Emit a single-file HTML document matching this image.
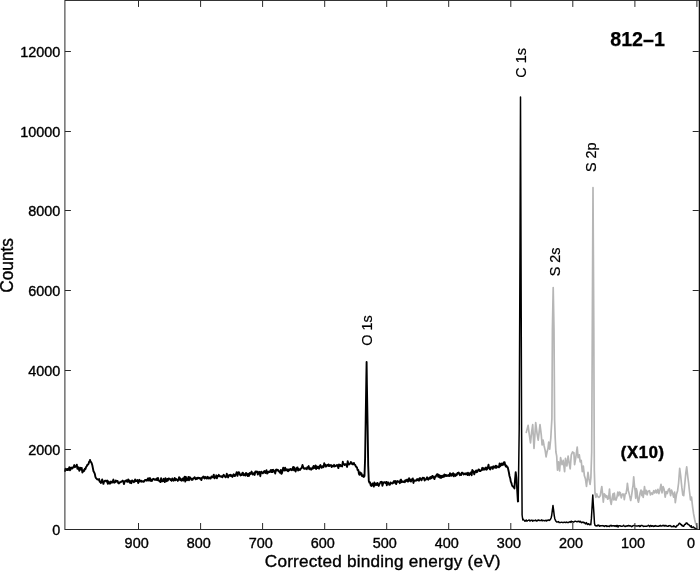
<!DOCTYPE html>
<html><head><meta charset="utf-8"><title>812-1</title>
<style>
html,body{margin:0;padding:0;background:#fff;}
body{width:700px;height:571px;overflow:hidden;font-family:"Liberation Sans",sans-serif;}
svg{display:block;filter:grayscale(1);}
text{font-family:"Liberation Sans",sans-serif;fill:#000;stroke:#000;}
</style></head><body>
<svg width="700" height="571" viewBox="0 0 700 571">
<rect x="0" y="0" width="700" height="571" fill="#fff"/>
<polyline fill="none" stroke="#b6b6b6" stroke-width="1.7" stroke-linejoin="round" stroke-linecap="round" points="526.3,432.4 528.1,425.4 529.2,433.8 530.5,442.9 531.6,432.4 532.7,424.7 534.0,448.5 535.7,422.6 537.1,433.8 538.2,440.1 540.0,424.7 541.3,435.2 542.1,445.0 543.1,440.1 544.1,445.7 545.2,450.6 546.1,456.9 547.0,452.0 548.0,448.5 548.7,442.2 549.7,449.2 550.8,438.0 551.9,418.4 552.4,330.0 553.2,287.5 554.0,330.0 554.6,420.0 555.2,438.0 555.9,452.0 556.7,456.2 557.5,470.2 558.5,461.8 559.6,470.9 560.6,457.6 562.0,464.6 563.2,460.4 564.6,471.6 565.5,458.3 566.9,466.0 568.1,456.2 569.3,463.9 570.2,468.8 571.3,454.8 572.5,452.0 573.9,452.7 574.6,464.6 575.8,457.6 577.2,447.1 578.1,457.6 579.3,454.8 580.2,461.8 581.2,460.4 582.3,471.6 583.3,466.0 584.4,475.8 585.4,478.7 586.5,486.4 588.0,472.3 588.9,478.7 590.1,484.3 590.9,477.3 591.7,452.0 592.3,330.0 593.0,187.5 593.8,330.0 594.3,470.0 595.0,493.0 595.9,497.4 596.8,493.9 597.6,496.5 598.9,497.4 600.3,495.7 601.1,490.4 601.8,486.5 602.5,493.0 603.3,502.2 604.2,493.9 605.1,494.8 606.0,497.4 606.8,495.7 607.7,499.2 608.6,498.3 609.5,489.1 610.3,500.0 611.2,504.4 612.1,498.3 613.0,493.9 613.8,500.0 614.3,493.0 615.2,499.6 616.0,500.0 616.9,497.4 617.8,492.2 618.7,495.7 619.5,492.2 620.4,493.0 621.3,497.8 622.2,494.8 623.0,493.9 623.9,495.7 624.3,499.6 625.2,493.9 626.1,493.5 627.0,487.8 627.4,483.4 628.3,490.4 629.2,493.9 630.0,497.4 630.7,500.5 631.6,495.7 632.5,488.6 633.1,485.1 633.7,476.8 634.4,485.1 635.1,490.4 635.7,498.3 636.3,488.6 637.0,491.3 637.8,500.0 638.5,502.2 639.2,498.3 640.1,493.0 641.0,490.0 641.9,495.7 642.5,491.3 643.2,497.4 644.1,490.4 644.5,486.5 645.4,493.9 646.2,490.4 647.1,494.8 648.0,491.3 649.5,490.7 650.5,495.0 651.5,492.9 652.6,494.3 653.7,490.7 654.7,492.9 655.7,490.0 656.8,492.9 657.9,489.3 658.9,493.6 659.9,490.0 661.0,484.4 662.0,492.9 663.1,486.5 664.1,489.3 665.2,497.1 666.2,491.5 667.3,493.6 668.5,489.3 669.4,488.6 670.6,495.7 671.5,490.0 672.5,492.9 673.6,497.1 674.6,492.2 675.3,502.7 676.5,494.3 677.6,490.7 678.6,483.0 679.7,468.3 680.7,476.0 681.8,487.2 682.8,495.0 683.7,495.7 684.9,483.0 685.8,473.2 686.7,466.9 687.7,476.0 688.6,483.0 689.5,491.5 690.5,499.9 691.5,497.1 692.6,506.9 693.6,513.9 694.7,519.5 695.7,523.7 696.4,525.1 697.2,527.2"/>
<polyline fill="none" stroke="#000" stroke-width="1.9" stroke-linejoin="round" stroke-linecap="round" points="65.0,471.0 65.6,468.6 66.2,469.5 66.9,470.1 67.5,468.9 68.1,470.0 68.7,469.6 69.3,467.2 70.0,470.2 70.6,469.4 71.2,467.6 71.8,467.9 72.4,468.4 73.1,467.2 73.7,466.9 74.3,465.1 74.9,467.2 75.5,466.4 76.2,466.4 76.8,464.7 77.4,468.9 78.0,467.5 78.6,467.3 79.3,470.7 79.9,468.8 80.5,467.8 81.1,469.6 81.7,468.0 82.4,472.6 83.0,471.5 83.6,470.3 84.2,470.9 84.8,468.8 85.5,469.0 86.1,466.9 86.7,466.3 87.3,464.8 87.9,464.8 88.6,463.7 89.2,461.5 89.8,460.8 90.0,459.9 90.4,461.2 91.0,462.1 91.7,463.3 92.3,465.3 92.9,468.3 93.5,471.2 94.1,472.2 94.8,473.8 95.4,476.9 96.0,478.1 96.6,478.7 97.2,479.4 97.9,479.5 98.5,479.8 99.1,479.0 99.7,481.9 100.3,481.4 101.0,483.0 101.6,481.2 102.2,479.4 102.8,481.7 103.4,483.9 104.1,481.4 104.7,480.9 105.3,480.6 105.9,480.7 106.5,481.6 107.2,480.5 107.8,483.7 108.4,481.5 109.0,482.0 109.6,483.6 110.3,483.6 110.9,481.5 111.5,482.2 112.1,482.6 112.7,481.5 113.4,479.6 114.0,482.5 114.6,482.7 115.2,482.1 115.8,480.5 116.5,481.4 117.1,480.9 117.7,481.2 118.3,483.1 118.9,483.4 119.6,482.3 120.2,482.1 120.8,482.3 121.4,481.4 122.0,481.3 122.7,480.6 123.3,481.3 123.9,484.1 124.5,482.4 125.1,480.9 125.8,480.7 126.4,480.2 127.0,481.7 127.6,481.7 128.2,479.5 128.9,481.8 129.5,480.5 130.1,482.9 130.7,481.3 131.3,483.2 132.0,480.5 132.6,480.7 133.2,481.4 133.8,482.3 134.4,481.7 135.1,479.5 135.7,481.2 136.3,481.0 136.9,480.4 137.5,480.1 138.2,483.0 138.8,480.4 139.4,479.8 140.0,481.6 140.6,480.9 141.3,480.7 141.9,481.7 142.5,481.3 143.1,481.1 143.7,481.8 144.4,481.0 145.0,479.9 145.6,480.2 146.2,480.0 146.8,480.8 147.5,479.2 148.1,478.3 148.7,480.6 149.3,478.9 149.9,478.1 150.6,480.9 151.2,479.5 151.8,481.0 152.4,479.7 153.0,479.0 153.7,478.8 154.3,479.7 154.9,479.9 155.5,479.3 156.1,479.9 156.8,478.4 157.4,480.2 158.0,478.0 158.6,479.9 159.2,480.9 159.9,481.4 160.5,482.1 161.1,478.2 161.7,480.9 162.3,481.4 163.0,481.2 163.6,478.8 164.2,480.4 164.8,482.1 165.4,478.1 166.1,480.4 166.7,481.2 167.3,479.0 167.9,480.5 168.5,478.5 169.2,478.8 169.8,478.7 170.4,479.9 171.0,479.6 171.6,480.8 172.3,478.5 172.9,479.5 173.5,480.7 174.1,480.2 174.7,478.0 175.4,480.3 176.0,478.9 176.6,479.9 177.2,479.8 177.8,480.9 178.5,479.6 179.1,477.2 179.7,477.7 180.3,480.2 180.9,479.0 181.6,480.7 182.2,479.6 182.8,478.4 183.4,480.5 184.0,478.2 184.7,476.7 185.3,481.6 185.9,476.9 186.5,479.9 187.1,480.2 187.8,479.3 188.4,477.0 189.0,480.3 189.6,477.3 190.2,477.4 190.9,478.5 191.5,479.8 192.1,479.2 192.7,479.7 193.3,478.2 194.0,478.4 194.6,477.2 195.2,478.2 195.8,479.2 196.4,478.1 197.1,478.9 197.7,477.6 198.3,477.6 198.9,478.3 199.5,477.9 200.2,478.8 200.8,478.3 201.4,480.1 202.0,477.7 202.6,477.6 203.3,476.6 203.9,477.8 204.5,478.5 205.1,476.8 205.7,477.5 206.4,478.4 207.0,477.3 207.6,476.8 208.2,478.6 208.8,477.4 209.5,477.8 210.1,478.6 210.7,478.5 211.3,476.7 211.9,476.4 212.6,477.3 213.2,476.8 213.8,474.6 214.4,478.4 215.0,476.8 215.7,477.6 216.3,475.3 216.9,478.2 217.5,475.9 218.1,476.4 218.8,474.8 219.4,476.2 220.0,476.1 220.6,476.1 221.2,476.8 221.9,476.3 222.5,477.3 223.1,475.5 223.7,474.8 224.3,475.9 225.0,476.7 225.6,477.3 226.2,476.8 226.8,473.6 227.4,476.1 228.1,477.4 228.7,475.6 229.3,474.9 229.9,475.8 230.5,474.8 231.2,476.1 231.8,475.3 232.4,476.9 233.0,475.8 233.6,474.3 234.3,475.8 234.9,476.1 235.5,474.3 236.1,474.4 236.7,472.1 237.4,475.9 238.0,474.0 238.6,472.1 239.2,472.5 239.8,474.3 240.5,475.4 241.1,474.4 241.7,475.0 242.3,473.0 242.9,472.7 243.6,475.3 244.2,474.8 244.8,474.1 245.4,475.6 246.0,472.9 246.7,473.5 247.3,475.2 247.9,476.1 248.5,473.8 249.1,475.8 249.8,473.0 250.4,474.0 251.0,473.4 251.6,471.6 252.2,473.8 252.9,474.6 253.5,473.2 254.1,473.2 254.7,474.9 255.3,471.7 256.0,471.4 256.6,472.3 257.2,471.6 257.8,474.6 258.4,473.3 259.1,471.8 259.7,472.1 260.3,476.2 260.9,472.0 261.5,471.7 262.2,473.0 262.8,473.3 263.4,472.7 264.0,471.3 264.6,471.0 265.3,473.0 265.9,472.2 266.5,470.2 267.1,473.5 267.7,473.0 268.4,471.7 269.0,471.6 269.6,472.1 270.2,471.0 270.8,470.1 271.5,472.1 272.1,469.9 272.7,472.0 273.3,469.8 273.9,471.3 274.6,471.2 275.2,473.5 275.8,470.0 276.4,469.5 277.0,470.4 277.7,469.7 278.3,470.3 278.9,471.5 279.5,471.8 280.1,472.8 280.8,469.9 281.4,473.9 282.0,473.0 282.6,470.4 283.2,467.8 283.9,470.4 284.5,470.5 285.1,467.6 285.7,470.4 286.3,470.0 287.0,469.2 287.6,470.9 288.2,471.3 288.8,469.4 289.4,470.2 290.1,469.1 290.7,468.9 291.3,469.9 291.9,470.3 292.5,469.0 293.2,466.9 293.8,470.2 294.4,467.5 295.0,469.5 295.6,471.5 296.3,469.3 296.9,467.8 297.5,467.4 298.1,470.5 298.7,469.0 299.4,469.6 300.0,470.0 300.6,468.8 301.2,468.4 301.8,467.6 302.5,465.0 303.1,466.8 303.7,468.5 304.3,468.3 304.9,468.9 305.6,468.2 306.2,468.5 306.8,469.2 307.4,467.1 308.0,467.8 308.7,466.1 309.3,469.2 309.9,468.0 310.5,468.5 311.1,469.7 311.8,469.1 312.4,467.6 313.0,468.6 313.6,465.9 314.2,468.1 314.9,467.6 315.5,465.5 316.1,469.0 316.7,466.4 317.3,468.0 318.0,466.7 318.6,468.3 319.2,468.6 319.8,466.0 320.4,465.1 321.1,466.7 321.7,467.8 322.3,466.3 322.9,466.0 323.5,467.2 324.2,463.3 324.8,465.7 325.4,464.8 326.0,466.7 326.6,465.4 327.3,464.9 327.9,465.8 328.5,464.4 329.1,466.1 329.7,465.2 330.4,465.5 331.0,465.1 331.6,467.0 332.2,465.7 332.8,466.4 333.5,466.3 334.1,464.8 334.7,466.4 335.3,466.1 335.9,466.0 336.6,465.1 337.2,465.0 337.8,466.4 338.4,468.1 339.0,464.4 339.7,466.0 340.3,464.9 340.9,466.2 341.5,465.8 342.1,466.5 342.8,461.8 343.4,464.4 344.0,463.9 344.6,464.9 345.2,464.1 345.9,464.1 346.5,465.5 347.1,466.9 347.7,461.1 348.3,464.0 349.0,464.6 349.6,464.1 350.2,463.5 350.8,462.1 351.4,462.4 352.1,464.2 352.7,464.4 353.3,463.4 353.9,462.9 354.5,464.7 355.2,464.9 355.8,466.4 356.4,467.1 357.0,467.6 357.6,470.1 358.3,469.9 358.9,473.7 359.5,474.7 360.1,472.3 360.7,474.6 361.4,473.3 362.0,476.1 362.6,476.3 363.2,475.3 363.8,476.9 364.5,475.9 365.1,458.3 365.7,419.0 366.3,379.7 366.6,362.0 366.9,384.3 367.6,424.9 368.2,465.6 368.8,481.0 369.4,482.6 370.0,482.3 370.7,485.2 371.3,486.0 371.9,484.8 372.5,483.4 373.1,485.2 373.8,486.6 374.4,482.5 375.0,485.3 375.6,484.2 376.2,483.5 376.9,485.1 377.5,482.9 378.1,484.7 378.7,485.9 379.3,484.4 380.0,483.1 380.6,481.9 381.2,482.5 381.8,481.7 382.4,485.8 383.1,483.5 383.7,482.5 384.3,482.1 384.9,482.3 385.5,483.1 386.2,481.9 386.8,485.4 387.4,482.5 388.0,482.3 388.6,483.6 389.3,484.9 389.9,484.7 390.5,482.4 391.1,483.3 391.7,483.1 392.4,483.5 393.0,483.1 393.6,481.6 394.2,481.1 394.8,482.8 395.5,481.1 396.1,484.1 396.7,482.4 397.3,481.1 397.9,481.8 398.6,481.5 399.2,481.9 399.8,483.2 400.4,480.2 401.0,479.6 401.7,482.2 402.3,481.4 402.9,481.8 403.5,482.0 404.1,481.2 404.8,482.2 405.4,480.1 406.0,481.2 406.6,480.0 407.2,479.6 407.9,481.6 408.5,481.4 409.1,478.3 409.7,479.2 410.3,480.8 411.0,481.6 411.6,479.5 412.2,479.9 412.8,478.4 413.4,483.0 414.1,480.5 414.7,480.9 415.3,480.5 415.9,480.7 416.5,480.2 417.2,479.0 417.8,480.2 418.4,479.3 419.0,480.7 419.6,478.2 420.3,478.3 420.9,479.7 421.5,480.3 422.1,478.9 422.7,477.7 423.4,478.4 424.0,477.8 424.6,480.6 425.2,479.3 425.8,479.6 426.5,478.4 427.1,477.3 427.7,479.3 428.3,479.7 428.9,478.4 429.6,477.5 430.2,478.8 430.8,476.9 431.4,478.2 432.0,476.3 432.7,475.9 433.3,477.7 433.9,477.3 434.5,479.1 435.1,476.4 435.8,476.7 436.4,475.2 437.0,474.2 437.6,474.2 438.2,476.8 438.9,474.8 439.5,477.4 440.1,477.7 440.7,475.6 441.3,477.9 442.0,476.1 442.6,477.1 443.2,475.4 443.8,476.8 444.4,474.4 445.1,476.2 445.7,474.9 446.3,475.2 446.9,476.1 447.5,475.5 448.2,475.1 448.8,476.0 449.4,476.0 450.0,473.3 450.6,475.6 451.3,475.7 451.9,473.9 452.5,475.2 453.1,473.1 453.7,476.4 454.4,474.3 455.0,474.4 455.6,475.9 456.2,474.2 456.8,475.0 457.5,473.0 458.1,473.5 458.7,472.5 459.3,473.8 459.9,475.2 460.6,474.2 461.2,475.0 461.8,472.6 462.4,472.7 463.0,473.2 463.7,474.4 464.3,474.1 464.9,473.6 465.5,474.3 466.1,473.3 466.8,473.4 467.4,475.0 468.0,472.7 468.6,473.5 469.2,475.2 469.9,473.3 470.5,474.0 471.1,472.3 471.7,475.2 472.3,470.0 473.0,471.2 473.6,471.2 474.2,474.3 474.8,472.7 475.4,471.8 476.1,470.4 476.7,472.3 477.3,471.8 477.9,470.6 478.5,469.5 479.2,469.7 479.8,471.1 480.4,471.0 481.0,470.5 481.6,470.0 482.3,467.8 482.9,469.8 483.5,468.2 484.1,469.3 484.7,469.6 485.4,468.0 486.0,467.4 486.6,469.7 487.2,468.9 487.8,467.6 488.5,464.7 489.1,468.2 489.7,468.9 490.3,469.4 490.9,467.2 491.6,467.2 492.2,467.3 492.8,468.8 493.4,466.3 494.0,467.5 494.7,466.5 495.3,467.8 495.9,465.6 496.5,467.8 497.1,466.6 497.8,466.5 498.4,467.0 499.0,467.3 499.6,463.4 500.2,466.2 500.9,465.1 501.5,463.6 502.1,465.2 502.7,463.5 503.3,464.7 504.0,462.3 504.6,462.2 505.2,465.1 505.8,466.5 506.4,465.6 507.1,467.2 507.7,467.1 508.3,469.8 508.9,472.5 509.5,476.0 510.2,478.2 510.8,481.7 511.4,482.9 512.0,485.1 512.6,486.3 513.3,486.8 513.9,487.5 514.4,488.4 514.5,486.8 515.1,479.0 515.7,472.1 515.7,472.2 516.4,477.9 517.0,486.9 517.6,496.8 517.9,501.5 518.2,501.0"/>
<polyline fill="none" stroke="#000" stroke-width="1.5" stroke-linejoin="round" stroke-linecap="round" points="518.2,501.0 519.2,430.0 520.0,250.0 520.5,97.0 521.0,250.0 521.6,430.0 522.1,515.0 522.8,520.0 523.2,519.2 523.8,520.0 524.4,520.5 525.0,521.3 525.7,520.4 526.3,520.0 526.9,521.3 527.5,520.6 528.1,520.4 528.8,520.1 529.4,520.1 530.0,521.1 530.6,520.4 531.2,520.3 531.9,520.3 532.5,521.1 533.1,520.3 533.7,520.8 534.3,520.6 535.0,520.6 535.6,520.1 536.2,520.8 536.8,521.1 537.4,520.5 538.1,520.1 538.7,520.0 539.3,520.6 539.9,520.4 540.5,520.5 541.2,520.5 541.8,519.9 542.4,520.8 543.0,520.6 543.6,520.5 544.3,520.6 544.9,520.9 545.5,520.5 546.1,520.2 546.7,521.0 547.4,520.3 548.0,520.2 548.6,519.9 549.2,520.5 549.8,520.1 550.5,519.2 551.1,518.0 551.7,515.5 552.3,510.7 552.9,506.0 553.0,505.5 553.6,510.2 554.2,515.3 554.8,518.7 555.4,520.2 556.0,521.3 556.7,522.0 557.3,521.9 557.9,521.8 558.5,521.6 559.1,522.5 559.8,522.6 560.4,522.6 561.0,522.4 561.6,522.2 562.2,522.4 562.9,522.5 563.5,522.4 564.1,522.3 564.7,522.2 565.3,522.5 566.0,522.4 566.6,522.0 567.2,522.5 567.8,522.5 568.4,522.5 569.1,522.1 569.7,522.0 570.3,521.6 570.9,522.4 571.5,521.2 572.2,521.8 572.8,521.8 573.4,522.2 574.0,521.9 574.6,521.4 575.3,521.2 575.9,521.4 576.5,521.7 577.1,521.7 577.7,521.5 578.4,521.3 579.0,521.4 579.6,522.0 580.2,521.3 580.8,521.9 581.5,522.7 582.1,522.4 582.7,522.1 583.3,522.7 583.9,522.3 584.6,522.8 585.2,523.6 585.8,523.9 586.4,522.6 587.0,523.8 587.7,524.5 588.3,523.7 588.9,524.1 589.5,524.8 590.1,524.2 590.8,524.7 591.4,518.4 592.0,508.2 592.6,498.0 592.8,495.0 593.2,502.5 593.9,513.0 594.5,523.5 595.1,525.4 595.7,525.8 596.3,525.7 597.0,526.1 597.6,525.2 598.2,525.4 598.8,525.1 599.4,526.2 600.1,526.0 600.7,525.7 601.3,525.7 601.9,525.8 602.5,525.6 603.2,525.9 603.8,525.8 604.4,526.5 605.0,526.1 605.6,525.7 606.3,525.7 606.9,526.5 607.5,526.2 608.1,526.1 608.7,526.3 609.4,526.6 610.0,525.5 610.6,525.7 611.2,525.3 611.8,526.2 612.5,525.8 613.1,525.7 613.7,525.7 614.3,526.2 614.9,525.9 615.6,525.7 616.2,526.5 616.8,525.5 617.4,525.4 618.0,527.0 618.7,525.8 619.3,525.7 619.9,525.7 620.5,525.9 621.1,526.3 621.8,526.2 622.4,526.2 623.0,525.8 623.6,525.3 624.2,526.0 624.9,526.5 625.5,526.4 626.1,525.9 626.7,526.2 627.3,525.8 628.0,525.9 628.6,525.4 629.2,525.8 629.8,526.0 630.4,525.8 631.1,526.2 631.7,526.7 632.3,526.4 632.9,525.8 633.5,525.6 634.2,525.6 634.8,525.5 635.4,525.9 636.0,526.1 636.6,526.0 637.3,526.0 637.9,526.0 638.5,525.8 639.1,525.6 639.7,526.6 640.4,526.3 641.0,525.5 641.6,525.5 642.2,525.6 642.8,525.9 643.5,526.4 644.1,526.3 644.7,526.3 645.3,526.3 645.9,526.3 646.6,526.2 647.2,526.1 647.8,525.8 648.4,525.2 649.0,525.8 649.7,526.6 650.3,525.6 650.9,525.6 651.5,526.3 652.1,525.9 652.8,525.7 653.4,526.5 654.0,526.1 654.6,526.2 655.2,525.6 655.9,526.0 656.5,526.0 657.1,526.2 657.7,526.3 658.3,526.3 659.0,525.9 659.6,526.1 660.2,525.4 660.8,526.1 661.4,526.1 662.1,525.7 662.7,525.5 663.3,525.8 663.9,525.3 664.5,526.0 665.2,525.9 665.8,525.4 666.4,525.8 667.0,526.2 667.6,526.2 668.3,526.2 668.9,525.7 669.5,525.7 670.1,525.6 670.7,526.0 671.4,526.7 672.0,526.4 672.6,526.6 673.2,526.7 673.8,525.7 674.5,526.5 675.1,526.6 675.7,527.1 676.3,526.9 676.9,525.6 677.6,525.5 678.2,525.0 678.8,523.9 679.4,523.2 680.0,523.4 680.7,524.6 681.3,524.4 681.9,525.7 682.5,525.6 683.1,526.2 683.8,526.2 684.4,524.8 685.0,524.3 685.6,524.2 686.2,522.9 686.9,523.0 687.5,523.8 688.1,524.5 688.7,524.4 689.3,525.2 690.0,526.0 690.6,526.6 691.2,525.7 691.8,527.4 692.4,527.5 693.1,527.0 693.7,527.1 694.3,528.1 694.9,528.0 695.5,528.5 696.2,529.0 696.8,528.8"/>
<g stroke="#2a2a2a" stroke-width="1" fill="none">
<rect x="64.9" y="0.45" width="634.5" height="529.05"/>
<line x1="699.45" y1="0" x2="699.45" y2="530" stroke="#111" stroke-width="1.3"/>
<line x1="696.9" y1="529.5" x2="696.9" y2="523.0"/>
<line x1="696.9" y1="0.45" x2="696.9" y2="6.95"/>
<line x1="634.9" y1="529.5" x2="634.9" y2="523.0"/>
<line x1="634.9" y1="0.45" x2="634.9" y2="6.95"/>
<line x1="572.8" y1="529.5" x2="572.8" y2="523.0"/>
<line x1="572.8" y1="0.45" x2="572.8" y2="6.95"/>
<line x1="510.8" y1="529.5" x2="510.8" y2="523.0"/>
<line x1="510.8" y1="0.45" x2="510.8" y2="6.95"/>
<line x1="448.7" y1="529.5" x2="448.7" y2="523.0"/>
<line x1="448.7" y1="0.45" x2="448.7" y2="6.95"/>
<line x1="386.7" y1="529.5" x2="386.7" y2="523.0"/>
<line x1="386.7" y1="0.45" x2="386.7" y2="6.95"/>
<line x1="324.7" y1="529.5" x2="324.7" y2="523.0"/>
<line x1="324.7" y1="0.45" x2="324.7" y2="6.95"/>
<line x1="262.6" y1="529.5" x2="262.6" y2="523.0"/>
<line x1="262.6" y1="0.45" x2="262.6" y2="6.95"/>
<line x1="200.6" y1="529.5" x2="200.6" y2="523.0"/>
<line x1="200.6" y1="0.45" x2="200.6" y2="6.95"/>
<line x1="138.5" y1="529.5" x2="138.5" y2="523.0"/>
<line x1="138.5" y1="0.45" x2="138.5" y2="6.95"/>
<line x1="64.9" y1="449.5" x2="70.9" y2="449.5"/>
<line x1="698.8" y1="449.5" x2="692.7" y2="449.5"/>
<line x1="64.9" y1="370.5" x2="70.9" y2="370.5"/>
<line x1="698.8" y1="370.5" x2="692.7" y2="370.5"/>
<line x1="64.9" y1="290.5" x2="70.9" y2="290.5"/>
<line x1="698.8" y1="290.5" x2="692.7" y2="290.5"/>
<line x1="64.9" y1="210.5" x2="70.9" y2="210.5"/>
<line x1="698.8" y1="210.5" x2="692.7" y2="210.5"/>
<line x1="64.9" y1="131.5" x2="70.9" y2="131.5"/>
<line x1="698.8" y1="131.5" x2="692.7" y2="131.5"/>
<line x1="64.9" y1="51.5" x2="70.9" y2="51.5"/>
<line x1="698.8" y1="51.5" x2="692.7" y2="51.5"/>
</g>
<text transform="translate(691.00,547.60) scale(1.03,1)" font-size="14" text-anchor="middle" stroke-width="0.35">0</text>
<text transform="translate(632.96,547.60) scale(1.03,1)" font-size="14" text-anchor="middle" stroke-width="0.35">100</text>
<text transform="translate(570.92,547.60) scale(1.03,1)" font-size="14" text-anchor="middle" stroke-width="0.35">200</text>
<text transform="translate(508.88,547.60) scale(1.03,1)" font-size="14" text-anchor="middle" stroke-width="0.35">300</text>
<text transform="translate(446.84,547.60) scale(1.03,1)" font-size="14" text-anchor="middle" stroke-width="0.35">400</text>
<text transform="translate(384.80,547.60) scale(1.03,1)" font-size="14" text-anchor="middle" stroke-width="0.35">500</text>
<text transform="translate(322.76,547.60) scale(1.03,1)" font-size="14" text-anchor="middle" stroke-width="0.35">600</text>
<text transform="translate(260.72,547.60) scale(1.03,1)" font-size="14" text-anchor="middle" stroke-width="0.35">700</text>
<text transform="translate(198.68,547.60) scale(1.03,1)" font-size="14" text-anchor="middle" stroke-width="0.35">800</text>
<text transform="translate(136.64,547.60) scale(1.03,1)" font-size="14" text-anchor="middle" stroke-width="0.35">900</text>
<text transform="translate(60.30,535.10) scale(1.03,1)" font-size="14" text-anchor="end" stroke-width="0.35">0</text>
<text transform="translate(60.30,454.70) scale(1.03,1)" font-size="14" text-anchor="end" stroke-width="0.35">2000</text>
<text transform="translate(60.30,375.70) scale(1.03,1)" font-size="14" text-anchor="end" stroke-width="0.35">4000</text>
<text transform="translate(60.30,295.70) scale(1.03,1)" font-size="14" text-anchor="end" stroke-width="0.35">6000</text>
<text transform="translate(60.30,215.70) scale(1.03,1)" font-size="14" text-anchor="end" stroke-width="0.35">8000</text>
<text transform="translate(60.30,136.70) scale(1.03,1)" font-size="14" text-anchor="end" stroke-width="0.35">10000</text>
<text transform="translate(60.30,56.70) scale(1.03,1)" font-size="14" text-anchor="end" stroke-width="0.35">12000</text>
<text transform="translate(526.30,77.70) rotate(-90)" font-size="14.4" stroke-width="0.2">C 1s</text>
<text transform="translate(596.30,172.10) rotate(-90)" font-size="14.4" stroke-width="0.2">S 2p</text>
<text transform="translate(560.10,276.30) rotate(-90)" font-size="14.4" stroke-width="0.2">S 2s</text>
<text transform="translate(372.40,345.70) rotate(-90)" font-size="14.4" stroke-width="0.2">O 1s</text>
<text transform="translate(13.10,292.80) scale(1.05,1) rotate(-90)" font-size="17.3" stroke-width="0.35">Counts</text>
<text transform="translate(264.80,566.70) scale(1.035,1)" font-size="16.6" letter-spacing="0.2" stroke-width="0.35">Corrected binding energy (eV)</text>
<text transform="translate(610.20,46.40)" font-size="19.7" font-weight="bold" stroke-width="0.25">812–1</text>
<text transform="translate(620.80,458.00)" font-size="16.5" font-weight="bold" letter-spacing="0.72" stroke-width="0.5">(X10)</text>
</svg>
</body></html>
